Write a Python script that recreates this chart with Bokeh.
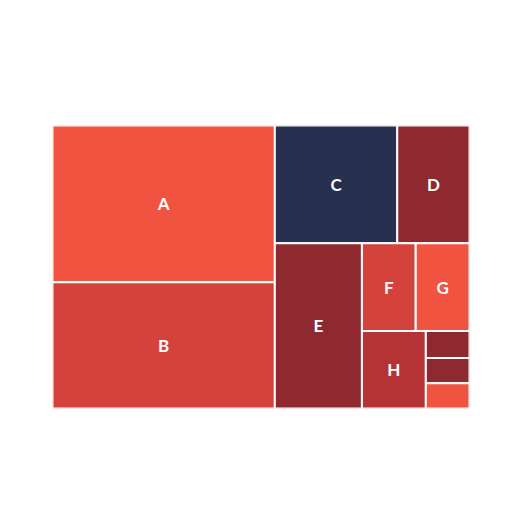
from bokeh.plotting import figure
from bokeh.models import ColumnDataSource, Range1d
from bokeh.core.properties import value
from bokeh.embed import file_html
from bokeh.resources import INLINE

# Data (share of the total area, in %)
names = ["A", "B", "C", "D", "E", "F", "G", "H", "I", "J", "K"]
values = [29.5, 23.8, 12.2, 7.2, 12.2, 4.0, 4.0, 4.2, 1.0, 0.94, 0.93]
colors = ["#f05440", "#d4433b", "#27314f", "#8e2a2f", "#8e2a2f", "#d4433b",
          "#f05440", "#b53335", "#8e2a2f", "#8e2a2f", "#f05440"]

PLOT_W, PLOT_H = 417, 283


def aspect(w, h):
    return max(w / h, h / w)


def worst(areas, side):
    # strip laid along `side`; every cell gets thickness = sum / side
    thick = sum(areas) / side
    return max(aspect(thick, a / thick) for a in areas)


def squarify_alternating(vals, x, y, w, h):
    """Squarified strips whose direction alternates (column, row, column...)."""
    total = sum(vals)
    areas = [v / total * w * h for v in vals]
    rects = []
    vertical = True
    i = 0
    while i < len(areas):
        side = h if vertical else w
        group = [areas[i]]
        j = i + 1
        while j < len(areas) and worst(group + [areas[j]], side) <= worst(group, side):
            group.append(areas[j])
            j += 1
        thick = sum(group) / side
        pos = y if vertical else x
        for a in group:
            length = a / thick
            if vertical:
                rects.append((x, pos, thick, length))
            else:
                rects.append((pos, y, length, thick))
            pos += length
        if vertical:
            x += thick
            w -= thick
        else:
            y += thick
            h -= thick
        vertical = not vertical
        i = j
    return rects


rects = squarify_alternating(values, 0, 0, PLOT_W, PLOT_H)

src = ColumnDataSource(dict(
    left=[r[0] for r in rects],
    right=[r[0] + r[2] for r in rects],
    top=[r[1] for r in rects],
    bottom=[r[1] + r[3] for r in rects],
    color=colors,
))

# labels only where they fit
lab_x, lab_y, lab_t = [], [], []
for name, r in zip(names, rects):
    if r[2] >= 40 and r[3] >= 40:
        lab_x.append(r[0] + r[2] / 2)
        lab_y.append(r[1] + r[3] / 2)
        lab_t.append(name)
labels = ColumnDataSource(dict(x=lab_x, y=lab_y, text=lab_t))

p = figure(frame_width=PLOT_W, frame_height=PLOT_H,
           x_range=Range1d(0, PLOT_W), y_range=Range1d(PLOT_H, 0),
           min_border_left=52, min_border_right=63,
           min_border_top=125, min_border_bottom=124,
           x_axis_location=None, y_axis_location=None,
           output_backend="svg", toolbar_location=None)
p.grid.visible = False
p.outline_line_color = None
p.background_fill_color = "white"
p.border_fill_color = "white"

p.quad(left="left", right="right", top="top", bottom="bottom", source=src,
       fill_color="color", line_color="white", line_width=2)

p.text(x="x", y="y", text="text", source=labels,
       text_align="center", text_baseline="middle",
       text_color="white", text_font=value("Lato"),
       text_font_style="bold", text_font_size="17px")

open("out.html", "w").write(file_html(p, INLINE))
